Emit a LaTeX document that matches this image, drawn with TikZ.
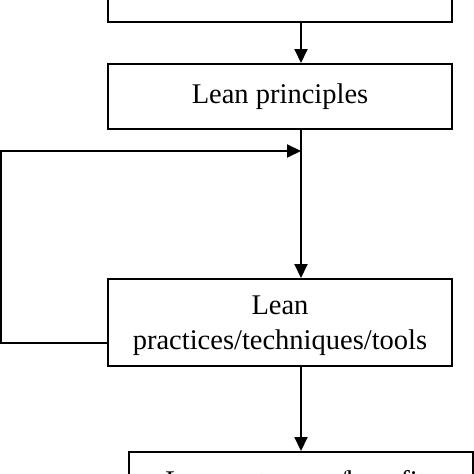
\documentclass[tikz,border=0pt]{standalone}
\usepackage{fontspec}
\setmainfont{Liberation Serif}
\usetikzlibrary{arrows.meta,positioning}

\begin{document}
\begin{tikzpicture}[>={Triangle[length=14pt,width=13pt]}, line width=2pt,
    box/.style={draw, minimum width=344pt, minimum height=65pt, align=center,
                inner sep=0pt, font=\fontsize{28.5}{34.5}\selectfont}]
    \useasboundingbox (0,0) rectangle (474pt,-474pt);
    \clip (0,0) rectangle (474pt,-474pt);
    % Boxes {source, principles, practices, outcomes}
    \node [box]  (source)      at (280pt,10.5pt)        {};
    \node [box]  (principles)  [below=40pt of source]   {Lean principles};
    \node [box, minimum height=87pt, text depth=-2pt]
                 (practices)   [below=148pt of principles] {Lean\\practices/techniques/tools};
    \node [box, minimum height=57pt]
                 (outcomes)    [below=84pt of practices, xshift=21pt] {Lean outcomes/benefits};

    % Feedback corner points
    \coordinate (fbbottom) at (1pt,-343pt);
    \coordinate (fbtop)    at (1pt,-151pt);
    \coordinate (fbin)     at (principles.south -| outcomes.north);

    % Paths
    \draw [->] (source.south -| fbin) -- (principles.north -| fbin);
    \draw [->] (principles.south -| fbin) -- (practices.north -| fbin);
    \draw [->] (practices.south -| fbin) -- (outcomes.north);
    \draw [->] (practices.west |- fbbottom) -- (fbbottom) -- (fbtop) -- (fbtop -| fbin);
\end{tikzpicture}
\end{document}
